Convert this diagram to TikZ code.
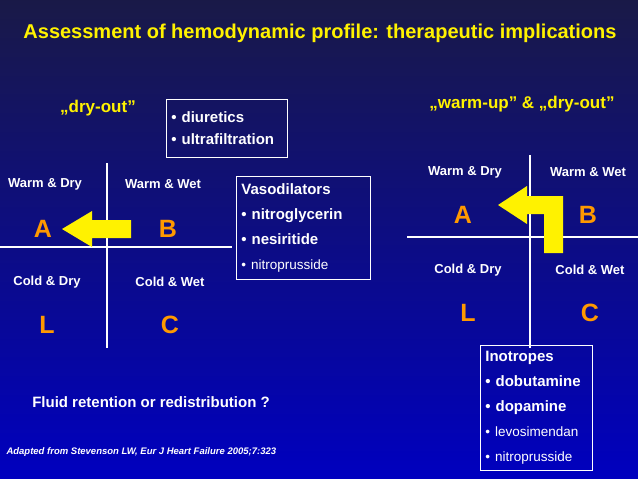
\documentclass[tikz,border=0pt]{standalone}
\usepackage{fontspec}
\setmainfont{Liberation Sans}
\begin{document}
\begin{tikzpicture}[x=1pt,y=-1pt,
 lab/.style={text=white,font=\bfseries\fontsize{13}{15}\selectfont},
 big/.style={text=orange!80!yellow,font=\bfseries\fontsize{25}{28}\selectfont},
 ylw/.style={text=yellow,font=\bfseries\fontsize{17}{19}\selectfont},
 box/.style={draw=white,line width=0.8pt,text=white,align=left,inner xsep=5pt,inner ysep=4pt,font=\bfseries\fontsize{15}{22}\selectfont},
 qline/.style={white,line width=1.6pt}]
\shade[top color=black!80!blue!90,bottom color=blue!75!black] (0,0) rectangle (638,479);
\useasboundingbox (0,0) rectangle (638,479);
\node[text=yellow,font=\bfseries\fontsize{20}{22}\selectfont] (t) at (320,33) {Assessment of hemodynamic profile: therapeutic implications};
% left
\node[ylw] (d1) at (98,108) {„dry-out”};
\node[box,text width=111,minimum height=58,anchor=north west] (b1) at (166,99) {• diuretics\\• ultrafiltration};
\coordinate (lv1) at (107,163); \coordinate (lv2) at (107,348);
\coordinate (lh1) at (0,247); \coordinate (lh2) at (232,247);
\draw[qline] (lv1)--(lv2); \draw[qline] (lh1)--(lh2);
\node[lab] (wd) at (45,184) {Warm \& Dry};
\node[lab] (ww) at (163,184) {Warm \& Wet};
\node[lab] (cd) at (47,282) {Cold \& Dry};
\node[lab] (cw) at (170,282) {Cold \& Wet};
\node[big] (A) at (43,229) {A}; \node[big] (B) at (168,229) {B};
\node[big] (L) at (47,325) {L}; \node[big] (C) at (170,325) {C};
\fill[yellow] (131,220)--(92,220)--(92,211)--(62,229)--(92,247)--(92,238)--(131,238)--cycle;
\node[box,text width=124,minimum height=103,anchor=north west,font=\bfseries\fontsize{15}{25}\selectfont] (b2) at (236,176) {Vasodilators\\• nitroglycerin\\• nesiritide\\{\mdseries\fontsize{13.5}{15}\selectfont • nitroprusside}};
% right
\node[ylw] (d2) at (522,104) {„warm-up” \& „dry-out”};
\coordinate (rv1) at (530,155); \coordinate (rv2) at (530,348);
\coordinate (rh1) at (407,237); \coordinate (rh2) at (638,237);
\draw[qline] (rv1)--(rv2); \draw[qline] (rh1)--(rh2);
\node[lab] (wd2) at (465,172) {Warm \& Dry};
\node[lab] (ww2) at (588,172) {Warm \& Wet};
\node[lab] (cd2) at (468,270) {Cold \& Dry};
\node[lab] (cw2) at (590,270) {Cold \& Wet};
\node[big] (A2) at (463,215) {A}; \node[big] (B2) at (588,215) {B};
\node[big] (L2) at (468,313) {L}; \node[big] (C2) at (590,313) {C};
\fill[yellow] (544,253)--(563,253)--(563,196)--(527,196)--(527,186)--(498,205)--(527,224)--(527,214)--(544,214)--cycle;
\node[box,text width=102,minimum height=125,anchor=north west,font=\bfseries\fontsize{15}{25}\selectfont] (b3) at (480,345) {Inotropes\\• dobutamine\\• dopamine\\{\mdseries\fontsize{13.5}{15}\selectfont • levosimendan}\\{\mdseries\fontsize{13.5}{15}\selectfont • nitroprusside}};
\node[text=white,font=\bfseries\fontsize{15}{17}\selectfont] (fr) at (151,402) {Fluid retention or redistribution ?};
\node[text=white,font=\bfseries\itshape\fontsize{9.5}{11}\selectfont,anchor=west] (src) at (3,452) {Adapted from Stevenson LW, Eur J Heart Failure 2005;7:323};
\end{tikzpicture}
\end{document}
